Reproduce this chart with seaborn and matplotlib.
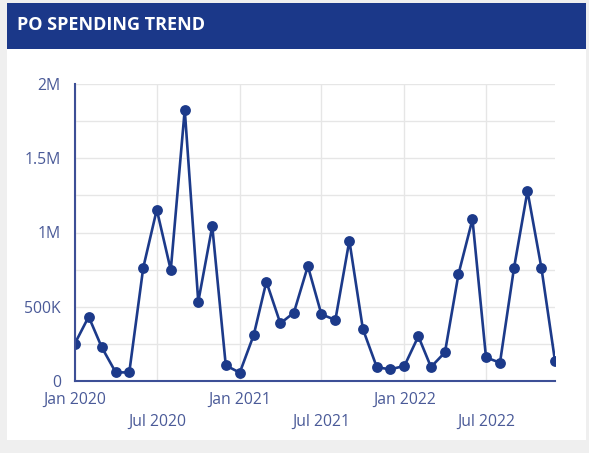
import matplotlib
matplotlib.use("Agg")
import matplotlib.pyplot as plt
from matplotlib.patches import Rectangle
import seaborn as sns
import pandas as pd
import numpy as np

months = pd.date_range("2020-01-01", "2022-12-01", freq="MS")
spend = [250000, 433000, 227000, 58000, 58000, 763000, 1154000, 747000, 1827000, 534000,
         1042000, 105000, 56000, 310000, 669000, 388000, 460000, 774000, 449000, 411000,
         945000, 350000, 92000, 79000, 101000, 301000, 94000, 193000, 720000, 1089000,
         159000, 123000, 759000, 1279000, 759000, 135000]
title = "PO SPENDING TREND"
ytick_vals = [0, 500000, 1000000, 1500000, 2000000]
ytick_labels = ["0", "500K", "1M", "1.5M", "2M"]
xtick_dates = pd.to_datetime(["2020-01-01", "2020-07-01", "2021-01-01", "2021-07-01", "2022-01-01", "2022-07-01"])
xtick_labels = ["Jan 2020", "\nJul 2020", "Jan 2021", "\nJul 2021", "Jan 2022", "\nJul 2022"]

df = pd.DataFrame({"month": months, "spend": spend})

sns.set_theme(style="white")
plt.rcParams["font.family"] = ["Open Sans", "DejaVu Sans"]

W, H = 589, 453
fig = plt.figure(figsize=(W / 100, H / 100), dpi=100)
fig.patch.set_facecolor("#efefef")

# card and header
fig.patches.append(Rectangle((7 / W, 1 - 440 / H), 579 / W, 437 / H, transform=fig.transFigure,
                             facecolor="white", edgecolor="none", zorder=0))
fig.patches.append(Rectangle((7 / W, 1 - 49 / H), 579 / W, 46 / H, transform=fig.transFigure,
                             facecolor="#1b3889", edgecolor="none", zorder=1))
fig.text(17 / W, 1 - 24.5 / H, title, color="white", fontsize=13, fontweight="bold",
         va="center", ha="left")

ax = fig.add_axes([74.7 / W, 1 - 381 / H, (555 - 74.7) / W, (381 - 84) / H])
ax.set_zorder(5)
line_color = "#1c3a8a"
sns.lineplot(data=df, x="month", y="spend", ax=ax, color=line_color, linewidth=1.9,
             marker="o", markersize=7.8, markeredgewidth=0, markeredgecolor=line_color)

ax.set_xlim(months[0], months[-1])
ax.set_ylim(0, 2000000)
ax.set_yticks(np.arange(0, 2000001, 250000), minor=True)
ax.set_yticks(ytick_vals)
ax.set_yticklabels(ytick_labels)
ax.set_xticks(xtick_dates)
ax.set_xticklabels(xtick_labels)
ax.set_xlabel("")
ax.set_ylabel("")

ax.grid(True, which="both", axis="y", color="#e6e6e6", linewidth=1)
ax.grid(True, which="major", axis="x", color="#e6e6e6", linewidth=1)
ax.set_axisbelow(True)
ax.tick_params(axis="y", which="both", length=0, pad=10, labelsize=11.3, labelcolor="#4a5a98")
ax.tick_params(axis="x", length=0, pad=8, labelsize=11.3, labelcolor="#4a5a98")
for t in ax.get_xticklabels():
    t.set_linespacing(1.5)

for s in ["top", "right"]:
    ax.spines[s].set_visible(False)
for s in ["left", "bottom"]:
    ax.spines[s].set_color("#3d4f96")
    ax.spines[s].set_linewidth(1.5)
ax.patch.set_alpha(0)

fig.savefig("out.png", dpi=100, facecolor=fig.get_facecolor())
